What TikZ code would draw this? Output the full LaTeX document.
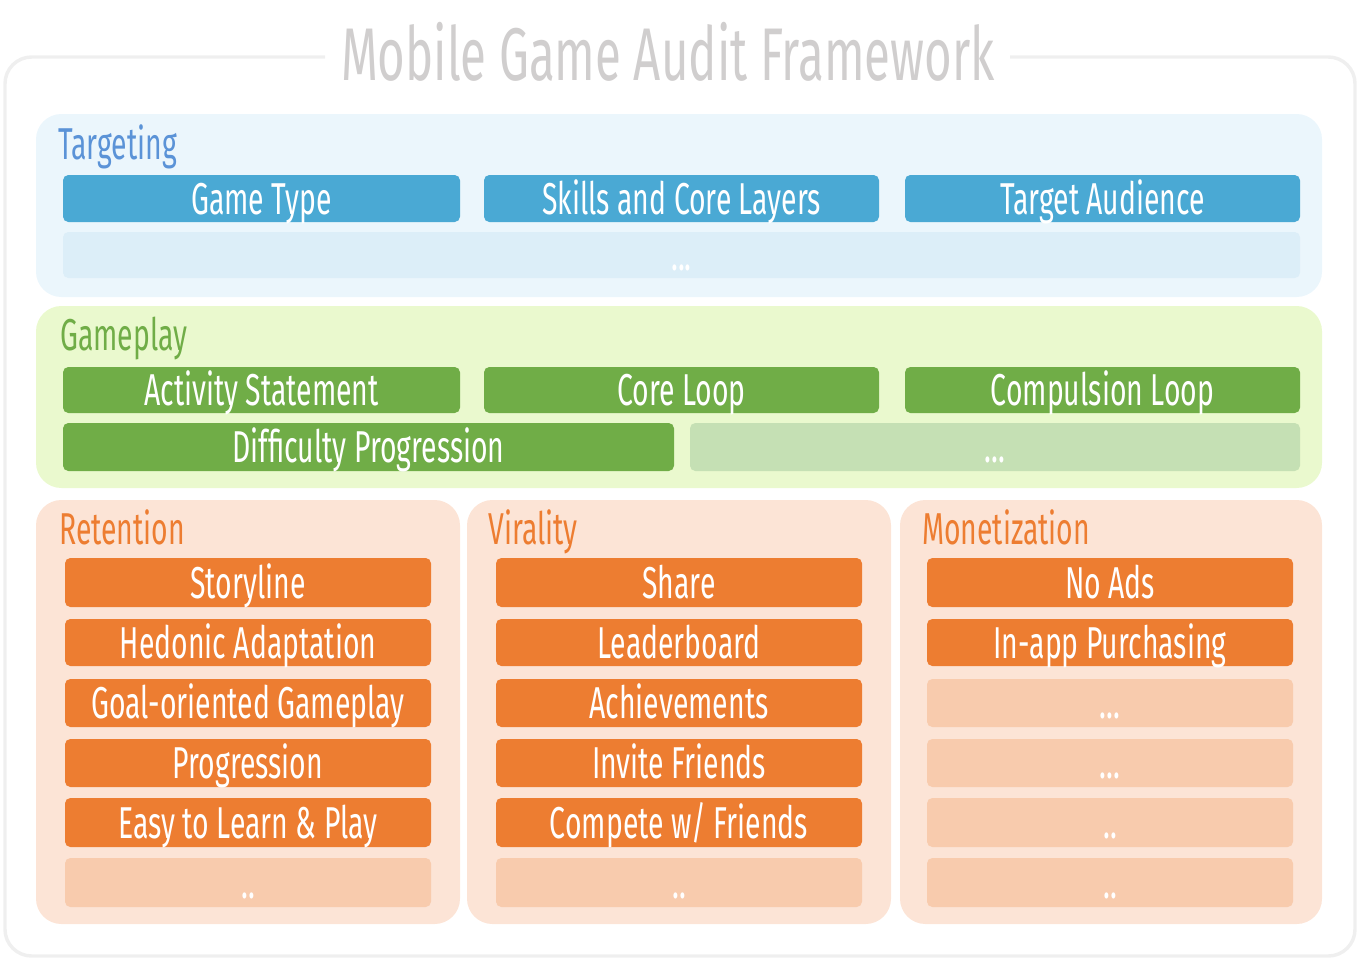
\documentclass[tikz,border=0pt]{standalone}
\usepackage{fontspec}
\setmainfont{Fira Sans}[FakeStretch=0.635]
\definecolor{titlegray}{HTML}{D0CECE}
\definecolor{framegray}{HTML}{EFEFEF}
\definecolor{bluelab}{HTML}{5B93D7}
\definecolor{bluebox}{HTML}{4AA9D4}
\definecolor{bluepanel}{HTML}{EBF6FC}
\definecolor{blueph}{HTML}{DCEEF8}
\definecolor{greenbox}{HTML}{70AD47}
\definecolor{greenpanel}{HTML}{EAF9CE}
\definecolor{greenph}{HTML}{C5E0B4}
\definecolor{orangebox}{HTML}{ED7D31}
\definecolor{orangepanel}{HTML}{FCE4D6}
\definecolor{orangeph}{HTML}{F8CBAD}
\newcommand\rbox[7]{%
  \node[itembox, fill=#6, minimum width={(#4-#2)*0.75pt}, minimum height={(#5-#3)*0.75pt}]
    (#1) at ({(#2+#4)/2},{(#3+#5)/2}) {#7};}
\newcommand\rpanel[6]{%
  \node[panelbox, fill=#6, minimum width={(#4-#2)*0.75pt}, minimum height={(#5-#3)*0.75pt}]
    (#1) at ({(#2+#4)/2},{(#3+#5)/2}) {};}
\begin{document}
\begin{tikzpicture}[x=0.75pt, y=-0.75pt,
  itembox/.style={rounded corners=4pt, inner sep=0pt, text=white,
    font=\fontsize{33.5}{38}\selectfont, text height=23.5pt, text depth=0pt},
  panelbox/.style={rounded corners=19pt, inner sep=0pt},
  paneltitle/.style={anchor=base west, inner sep=0pt, font=\fontsize{33.5}{38}\selectfont},
  titletext/.style={anchor=base, inner sep=0pt, text=titlegray, font=\fontsize{56}{60}\selectfont}]
\useasboundingbox (0,0) rectangle (1360,960);
% outer frame
\coordinate (fl) at (325,57);
\coordinate (fr) at (1010,57);
\draw[framegray, line width=2.6pt, rounded corners=20pt]
  (fl) -- (5,57) -- (5,956) -- (1355,956) -- (1355,57) -- (fr);
\node[titletext] (title) at (668,80) {Mobile Game Audit Framework};
% Targeting
\rpanel{tp}{36}{114}{1322}{297}{bluepanel}
\node[paneltitle, text=bluelab] (tl) at (58,159) {Targeting};
\rbox{t1}{63}{175}{460}{222}{bluebox}{Game Type}
\rbox{t2}{484}{175}{879}{222}{bluebox}{Skills and Core Layers}
\rbox{t3}{905}{175}{1300}{222}{bluebox}{Target Audience}
\rbox{t4}{63}{232}{1300}{278}{blueph}{...}
% Gameplay
\rpanel{gp}{36}{306}{1322}{488}{greenpanel}
\node[paneltitle, text=greenbox] (gl) at (60,350) {Gameplay};
\rbox{g1}{63}{367}{460}{413}{greenbox}{Activity Statement}
\rbox{g2}{484}{367}{879}{413}{greenbox}{Core Loop}
\rbox{g3}{905}{367}{1300}{413}{greenbox}{Compulsion Loop}
\rbox{g4}{63}{423}{674}{471}{greenbox}{Difficulty Progression}
\rbox{g5}{690}{423}{1300}{471}{greenph}{...}
% Retention
\rpanel{rp}{36}{500}{460}{924}{orangepanel}
\node[paneltitle, text=orangebox] (rl) at (59,544) {Retention};
\rbox{r1}{65}{558}{431}{607}{orangebox}{Storyline}
\rbox{r2}{65}{619}{431}{666}{orangebox}{Hedonic Adaptation}
\rbox{r3}{65}{679}{431}{727}{orangebox}{Goal-oriented Gameplay}
\rbox{r4}{65}{739}{431}{787}{orangebox}{Progression}
\rbox{r5}{65}{798}{431}{847}{orangebox}{Easy to Learn \& Play}
\rbox{r6}{65}{858}{431}{907}{orangeph}{..}
% Virality
\rpanel{vp}{467}{500}{891}{924}{orangepanel}
\node[paneltitle, text=orangebox] (vl) at (488,544) {Virality};
\rbox{v1}{496}{558}{862}{607}{orangebox}{Share}
\rbox{v2}{496}{619}{862}{666}{orangebox}{Leaderboard}
\rbox{v3}{496}{679}{862}{727}{orangebox}{Achievements}
\rbox{v4}{496}{739}{862}{787}{orangebox}{Invite Friends}
\rbox{v5}{496}{798}{862}{847}{orangebox}{Compete w/ Friends}
\rbox{v6}{496}{858}{862}{907}{orangeph}{..}
% Monetization
\rpanel{mp}{900}{500}{1322}{924}{orangepanel}
\node[paneltitle, text=orangebox] (ml) at (922,544) {Monetization};
\rbox{m1}{927}{558}{1293}{607}{orangebox}{No Ads}
\rbox{m2}{927}{619}{1293}{666}{orangebox}{In-app Purchasing}
\rbox{m3}{927}{679}{1293}{727}{orangeph}{...}
\rbox{m4}{927}{739}{1293}{787}{orangeph}{...}
\rbox{m5}{927}{798}{1293}{847}{orangeph}{..}
\rbox{m6}{927}{858}{1293}{907}{orangeph}{..}
\end{tikzpicture}
\end{document}
